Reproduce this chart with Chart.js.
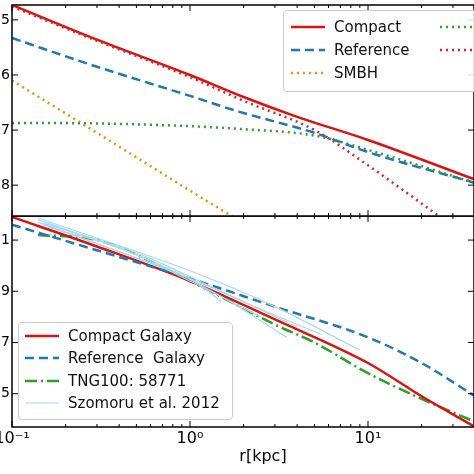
<!DOCTYPE html>
<html><head><meta charset="utf-8">
<script src="https://cdn.jsdelivr.net/npm/chart.js@4"></script>
<style>
body{margin:0;background:#fff;font-family:"DejaVu Sans",sans-serif}
#wrap{position:relative;width:474px;height:474px;overflow:hidden}
#c1{position:absolute;left:0;top:0}
#c2{position:absolute;left:0;top:216px}
.lg{position:absolute;background:rgba(255,255,255,0.85);border:1px solid #ccc;border-radius:4px;font-size:15px;color:#111}
.it{position:absolute;white-space:nowrap}
.it svg{position:absolute;left:0;top:0}
</style></head><body>
<div id="wrap">
<canvas id="c1" width="474" height="217"></canvas>
<canvas id="c2" width="474" height="258"></canvas>
</div>
<script>
// Top panel
const topCompactR=[0.1,0.3,1,2,4,10,40];
const topCompact=[-4.73,-5.36,-6.0,-6.4,-6.76,-7.18,-7.9];
const topCompactDotR=[0.1,0.3,1,2,5,10,25];
const topCompactDot=[-4.76,-5.38,-6.04,-6.47,-7.0,-7.64,-8.56];
const topRefR=[0.1,0.3,1,1.9,5,10,40];
const topRef=[-5.33,-5.85,-6.38,-6.67,-7.05,-7.4,-7.96];
const topGreenR=[0.1,0.3,1,1.9,5,10,40];
const topGreen=[-6.87,-6.88,-6.93,-6.98,-7.1,-7.36,-7.96];
const smbhR=[0.1,0.3,1,1.9];
const smbh=[-6.1,-7.05,-8.1,-8.65];
const topTicks=[-5,-6,-7,-8];
const topTickLabels=['5','6','7','8'];
// Bottom panel
const galR=[0.1,0.3,1,3,10,20,40];
const compactGal=[11.9,10.75,9.4,7.9,6.2,4.9,3.7];
const refGalR=[0.1,0.3,1,3,10,20,40];
const refGal=[11.6,10.6,9.5,8.4,7.2,6.2,4.9];
const tngR=[0.14,0.3,1,3,5,10,20,40];
const tng=[11.2,11.0,9.4,7.7,7.0,5.8,4.8,3.9];
const szR=[[0.14,1,3,9],[0.14,1,2.5,5.5],[0.15,0.5,1,1.5],[0.14,0.6,1.5,3.5],[0.16,0.4,1,2.5],[0.15,0.5,1.3,4]];
const szV=[[11.86,9.8,8.4,6.7],[11.7,9.5,8.3,7.3],[11.6,10.3,9.5,8.6],[11.8,10.2,8.8,7.2],[11.5,10.7,9.4,8.0],[11.65,10.5,9.2,7.6]];
const botTicks=[11,9,7,5];
const botTickLabels=['1','9','7','5'];
const xTickVals=[0.1,1,10];
const xTickLabels=['10⁻¹','10⁰','10¹'];
const xTitle='r[kpc]';

const pts=(r,v)=>r.map((x,i)=>({x:x,y:v[i]}));
const ds=(r,v,color,dash,w)=>({data:pts(r,v),borderColor:color,borderDash:dash,borderWidth:w,pointRadius:0,cubicInterpolationMode:'monotone',fill:false});

function tickPlugin(yLabels,yVals,xLabels){return {id:'inTicks',afterDraw(ch){
  const c=ch.ctx,a=ch.chartArea,xs=ch.scales.x,ys=ch.scales.y;
  c.save();c.strokeStyle='#000';c.lineWidth=1;
  for(let d=-1;d<=1;d++)for(let m=1;m<10;m++){
    const v=m*Math.pow(10,d);const p=xs.getPixelForValue(v);
    if(p<a.left||p>a.right)continue;const L=m===1?6:3;
    c.beginPath();c.moveTo(p,a.top);c.lineTo(p,a.top+L);c.moveTo(p,a.bottom);c.lineTo(p,a.bottom-L);c.stroke();}
  c.fillStyle='#000';c.font='14px "DejaVu Sans"';c.textAlign='right';c.textBaseline='middle';
  yVals.forEach((v,i)=>{const p=ys.getPixelForValue(v);c.beginPath();c.moveTo(a.left,p);c.lineTo(a.left+6,p);c.moveTo(a.right,p);c.lineTo(a.right-6,p);c.stroke();
    c.fillText(yLabels[i],a.left-2,p);});
  if(xLabels){c.font='16px "DejaVu Sans"';c.textAlign='center';c.textBaseline='top';
    xTickVals.forEach((v,i)=>c.fillText(xLabels[i],xs.getPixelForValue(v),a.bottom+4));
    c.fillText(xTitle,(a.left+a.right)/2+20,a.bottom+22);}
  c.lineWidth=1.5;c.strokeRect(a.left,a.top,a.right-a.left,a.bottom-a.top);c.restore();}};}

const xScale={type:'logarithmic',min:0.1,max:39.4,display:false};
const yScale=(min,max)=>({min:min,max:max,display:false});

new Chart(document.getElementById('c1'),{type:'line',plugins:[tickPlugin(topTickLabels,topTicks,null)],
 data:{datasets:[
  ds(topGreenR,topGreen,'#2ca02c',[2,4],2.5),
  ds(topCompactDotR,topCompactDot,'#d62728',[2,4],2.5),
  ds(smbhR,smbh,'#e8900c',[2,4],2.5),
  ds(topRefR,topRef,'#1f77b4',[9,5],2.5),
  ds(topCompactR,topCompact,'#dd1111',[],2.5)]},
 options:{responsive:false,animation:false,layout:{padding:{top:5,right:0,left:12,bottom:1}},
  plugins:{legend:{display:false},tooltip:{enabled:false}},
  scales:{x:xScale,y:yScale(-8.56,-4.73)}}});

const botSets=[];
szR.forEach((r,i)=>botSets.push(ds(r,szV[i],'#a8d8ea',[],1.2)));
botSets.push(ds(refGalR,refGal,'#1f77b4',[9,5],2.5));
botSets.push(ds(galR,compactGal,'#dd1111',[],2.5));
botSets.push(ds(tngR,tng,'#2ca02c',[12,4,2,4],2.5));
new Chart(document.getElementById('c2'),{type:'line',plugins:[tickPlugin(botTickLabels,botTicks,xTickLabels)],
 data:{datasets:botSets},
 options:{responsive:false,animation:false,layout:{padding:{top:0,right:0,left:12,bottom:47}},
  plugins:{legend:{display:false},tooltip:{enabled:false}},
  scales:{x:xScale,y:yScale(3.7,11.94)}}});

function legend(box,items){
  const d=document.createElement('div');d.className='lg';
  Object.assign(d.style,{left:box[0]+'px',top:box[1]+'px',width:box[2]+'px',height:box[3]+'px'});
  items.forEach(it=>{const e=document.createElement('div');e.className='it';
    e.style.left=it.x+'px';e.style.top=it.y+'px';e.style.height='20px';e.style.width='240px';
    e.innerHTML=`<svg width="36" height="20"><line x1="1" y1="10" x2="35" y2="10" stroke="${it.c}" stroke-width="${it.w||2.5}" stroke-dasharray="${it.d||''}"/></svg><span style="position:absolute;left:44px;top:0;line-height:20px">${it.t||''}</span>`;
    d.appendChild(e);});
  document.getElementById('wrap').appendChild(d);}
legend([283,10,200,80],[
 {x:6,y:6,c:'#dd1111',t:'Compact'},
 {x:6,y:29,c:'#1f77b4',d:'9 5',t:'Reference'},
 {x:6,y:52,c:'#e8900c',d:'2 4',t:'SMBH'},
 {x:155,y:6,c:'#2ca02c',d:'2 4'},
 {x:155,y:29,c:'#d62728',d:'2 4'}]);
legend([18,322,213,96],[
 {x:5,y:3,c:'#dd1111',t:'Compact Galaxy'},
 {x:5,y:25,c:'#1f77b4',d:'9 5',t:'Reference&nbsp; Galaxy'},
 {x:5,y:48,c:'#2ca02c',d:'12 4 2 4',t:'TNG100: 58771'},
 {x:5,y:70,c:'#a8d8ea',w:1.2,t:'Szomoru et al. 2012'}]);
</script></body></html>
